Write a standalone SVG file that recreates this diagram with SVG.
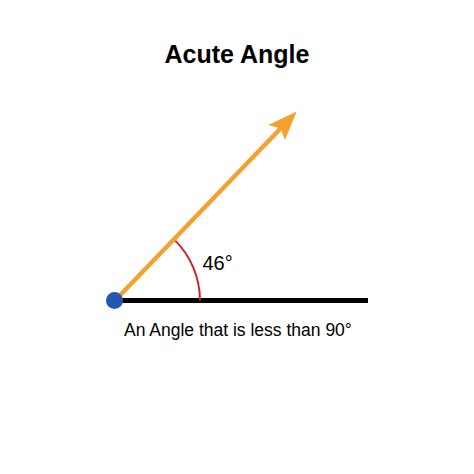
<svg xmlns="http://www.w3.org/2000/svg" width="474" height="474" viewBox="0 0 474 474">
  <style>
    .title { font-family: "Liberation Sans", Arial, sans-serif; font-weight: bold; font-size: 25px; fill: #000; }
    .lbl { font-family: "Liberation Sans", Arial, sans-serif; font-size: 20px; fill: #000; }
    .cap { font-family: "Liberation Sans", Arial, sans-serif; font-size: 17.5px; fill: #000; }
  </style>
  <rect width="474" height="474" fill="#fff"/>
  <text class="title" x="237" y="63" text-anchor="middle">Acute Angle</text>
  <g id="connectors">
    <line id="base" x1="115" y1="300.5" x2="368" y2="300.5" stroke="#000" stroke-width="5"/>
    <path id="arc" d="M 174 239.4 A 85 85 0 0 1 200 300.5" fill="none" stroke="#D0202E" stroke-width="2"/>
    <line id="ray" x1="115" y1="300.5" x2="281" y2="128" stroke="#F4A130" stroke-width="4.5"/>
    <polygon id="arrowhead" points="296.7,111.5 268.3,125 280.5,128.5 285,140" fill="#F4A130"/>
  </g>
  <g id="vertex">
    <circle cx="114.5" cy="300.5" r="8.5" fill="#2456B4"/>
  </g>
  <g id="angle-label">
    <text class="lbl" x="202.5" y="270">46°</text>
  </g>
  <g id="caption">
    <text class="cap" x="124" y="336">An Angle that is less than 90°</text>
  </g>
</svg>
